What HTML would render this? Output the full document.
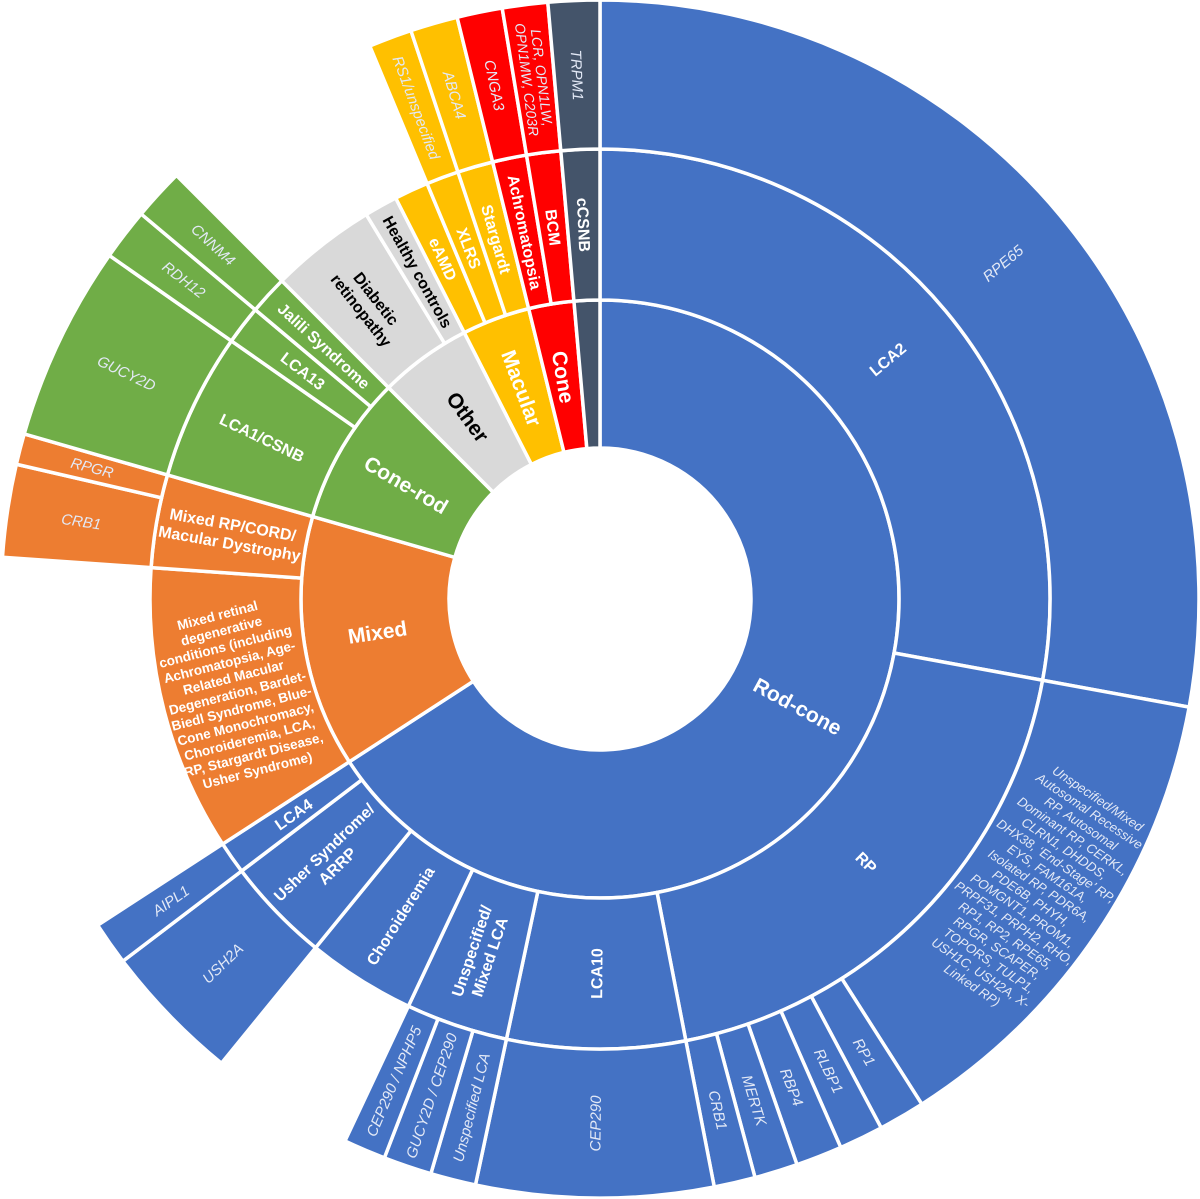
<!DOCTYPE html>
<html><head><meta charset="utf-8">
<style>
html,body{margin:0;padding:0;background:#fff;}
svg{display:block;font-family:"Liberation Sans",Arial,sans-serif;}
</style></head>
<body>
<svg id="chart" width="1200" height="1199" viewBox="0 0 1200 1199" xmlns="http://www.w3.org/2000/svg"></svg>
<script>
const ring1Names = ['Rod-cone','Mixed','Cone-rod','Other','Macular','Cone','cCSNB'];
const ring2Names = ['LCA2','RP','LCA10','Unspecified/Mixed LCA','Choroideremia','Usher Syndrome/ARRP','LCA4',
  'Mixed retinal degenerative conditions','Mixed RP/CORD/Macular Dystrophy',
  'LCA1/CSNB','LCA13','Jalili Syndrome',
  'Diabetic retinopathy','Healthy controls',
  'eAMD','XLRS','Stargardt',
  'Achromatopsia','BCM',
  'cCSNB-2'];
const ring2Parents = ['Rod-cone','Rod-cone','Rod-cone','Rod-cone','Rod-cone','Rod-cone','Rod-cone',
  'Mixed','Mixed','Cone-rod','Cone-rod','Cone-rod','Other','Other','Macular','Macular','Macular','Cone','Cone','cCSNB'];
const ring2Values = [100.4,68.6,23,13.2,14,13.6,4.2, 37,12, 19,5,5, 13.7,4.3, 4.4,4.2,4.6, 4.4,4.4, 5];
const ring3Names = ['RPE65','Unspecified/Mixed RP','RP1','RLBP1','RBP4','MERTK','CRB1-rp','CEP290',
  'Unspecified LCA','GUCY2D / CEP290','CEP290 / NPHP5','USH2A','AIPL1','CRB1','RPGR','GUCY2D','RDH12','CNNM4',
  'RS1/unspecified','ABCA4','CNGA3','LCR','TRPM1'];
const ring3Parents = ['LCA2','RP','RP','RP','RP','RP','RP','LCA10',
  'Unspecified/Mixed LCA','Unspecified/Mixed LCA','Unspecified/Mixed LCA','Usher Syndrome/ARRP','LCA4',
  'Mixed RP/CORD/Macular Dystrophy','Mixed RP/CORD/Macular Dystrophy','LCA1/CSNB','LCA13','Jalili Syndrome',
  'XLRS','Stargardt','Achromatopsia','BCM','cCSNB-2'];
const ring3Values = [100.4,47.1,4.5,4.3,4.5,4.2,4.0,23, 4.4,4.7,4.1,13.6,4.2, 9,3,19,5,5, 4.2,4.6,4.4,4.4,5];

const colors = {'Rod-cone':'#4472C4','Mixed':'#ED7D31','Cone-rod':'#70AD47','Other':'#D9D9D9','Macular':'#FFC000','Cone':'#FF0000','cCSNB':'#44546A'};
const labelLines = {
 'Unspecified/Mixed LCA':['Unspecified/','Mixed LCA'],
 'Usher Syndrome/ARRP':['Usher Syndrome/','ARRP'],
 'Mixed retinal degenerative conditions':['Mixed retinal','degenerative','conditions (including','Achromatopsia, Age-','Related Macular','Degeneration, Bardet-','Biedl Syndrome, Blue-','Cone Monochromacy,','Choroideremia, LCA,','RP, Stargardt Disease,','Usher Syndrome)'],
 'Mixed RP/CORD/Macular Dystrophy':['Mixed RP/CORD/','Macular Dystrophy'],
 'Diabetic retinopathy':['Diabetic','retinopathy'],
 'cCSNB-2':['cCSNB'],
 'cCSNB':[],
 'CRB1-rp':['CRB1'],
 'LCR':['LCR, OPN1LW,','OPN1MW, C203R'],
 'Unspecified/Mixed RP':['Unspecified/Mixed','Autosomal Recessive','RP, Autosomal','Dominant RP, CERKL,','CLRN1, DHDDS,','DHX38, \u2018End-Stage\u2019 RP,','EYS, FAM161A,','Isolated RP, PDR6A,','PDE6B, PHYH,','POMGNT1, PROM1,','PRPF31, PRPH2, RHO,','RP1, RP2, RPE65,','RPGR, SCAPER,','TOPORS, TULP1,','USH1C, USH2A, X-','Linked RP)']
};
const CX=600, CY=599, R=[151,299,450,599];
const svg=document.getElementById('chart');
const NS='http://www.w3.org/2000/svg';
const total=ring2Values.reduce((a,b)=>a+b,0);
const angle=v=>v/total*360;
function pt(r,a){const t=a*Math.PI/180;return [CX+r*Math.sin(t),CY-r*Math.cos(t)];}
function sector(r0,r1,a0,a1){
  const large=(a1-a0)>180?1:0;
  const p1=pt(r1,a0),p2=pt(r1,a1),p3=pt(r0,a1),p4=pt(r0,a0);
  return `M${p1[0]},${p1[1]}A${r1},${r1} 0 ${large} 1 ${p2[0]},${p2[1]}L${p3[0]},${p3[1]}A${r0},${r0} 0 ${large} 0 ${p4[0]},${p4[1]}Z`;
}
const gSeg=document.createElementNS(NS,'g');


svg.appendChild(gSeg);
const gLab=document.createElementNS(NS,'g');


svg.appendChild(gLab);

function drawSeg(name,top,r0,r1,a0,a1,ring){
  const p=document.createElementNS(NS,'path');
  p.setAttribute('d',sector(r0,r1,a0,a1));
  p.setAttribute('fill',colors[top]);
  p.setAttribute('stroke','#fff');
  p.setAttribute('stroke-width','3.5');
  
  
  gSeg.appendChild(p);
  const mid=(a0+a1)/2, rm=(r0+r1)/2;
  const [x,y]=pt(rm,mid);
  const rot=mid<180?mid-90:mid-270;
  const lines=labelLines[name]||[name];
  if(!lines.length) return;
  const t=document.createElementNS(NS,'text');
  let fs, lh, weight='bold', style='normal', fill='#fff';
  if(ring===1){fs=21;lh=24;}
  else if(ring===2){fs=16;lh=19;}
  else {fs=15;lh=17;weight='normal';style='italic';fill='#E3E9F6';}
  if(name==='LCR'){fs=14;lh=15;}
  if(lines.length>8){fs=ring===2?13.5:13;lh=ring===2?16:15;}
  if(top==='Other') fill='#000';
  t.setAttribute('transform',`translate(${x},${y}) rotate(${rot})`);
  t.setAttribute('text-anchor','middle');
  t.setAttribute('font-size',fs);
  t.setAttribute('font-weight',weight);
  t.setAttribute('font-style',style);
  t.setAttribute('fill',fill);
  
  
  const startDy=-(lines.length-1)*lh/2+fs*0.35;
  lines.forEach((ln,i)=>{
    const ts=document.createElementNS(NS,'tspan');
    ts.setAttribute('x','0');
    ts.setAttribute('dy', i===0?startDy:lh);
    ts.textContent=ln;
    t.appendChild(ts);
  });
  gLab.appendChild(t);
}
const span2={};
let cum=0;
ring2Names.forEach((n,i)=>{const a0=angle(cum);cum+=ring2Values[i];span2[n]=[a0,angle(cum)];});
ring1Names.forEach(n=>{
  const kids=ring2Names.filter((k,i)=>ring2Parents[i]===n);
  const a0=span2[kids[0]][0], a1=span2[kids[kids.length-1]][1];
  drawSeg(n,n,R[0],R[1],a0,a1,1);
});
ring2Names.forEach((n,i)=>{drawSeg(n,ring2Parents[i],R[1],R[2],span2[n][0],span2[n][1],2);});
const topOf=n=>ring2Parents[ring2Names.indexOf(n)];
ring2Names.forEach(p=>{
  const idx=ring3Parents.map((q,i)=>q===p?i:-1).filter(i=>i>=0);
  if(!idx.length)return;
  const sum=idx.reduce((s,i)=>s+ring3Values[i],0);
  const [p0,p1]=span2[p];
  let c=0;
  idx.forEach(i=>{
    const a0=p0+(p1-p0)*c/sum; c+=ring3Values[i]; const a1=p0+(p1-p0)*c/sum;
    drawSeg(ring3Names[i],topOf(p),R[2],R[3],a0,a1,3);
  });
});
</script>
</body></html>
